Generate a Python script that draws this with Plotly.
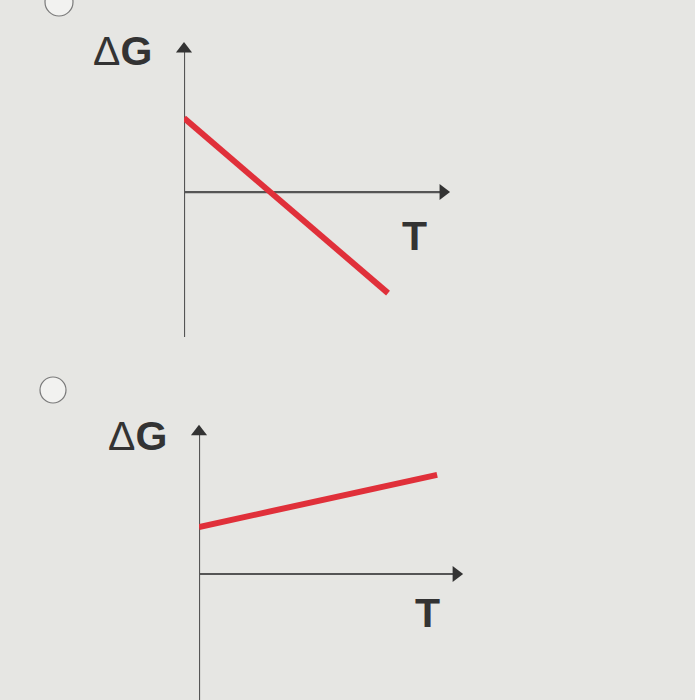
import plotly.graph_objects as go

# Diagram 1: ΔG falls as T rises
top_T = [0.0, 7.67]
top_dG = [2.78, -3.80]
top_T_range = [0, 10]
top_dG_range = [-5.45, 5.64]

# Diagram 2: ΔG rises slowly with T, always positive
bot_T = [0.0, 9.02]
bot_dG = [1.78, 3.75]
bot_T_range = [0, 10]
bot_dG_range = [-4.77, 5.64]

axis_label_x = "T"
axis_label_y = "Δ<b>G</b>"

RED = "#e0303a"
GREY = "#555555"
INK = "#333333"
BG = "#e6e6e3"

fig = go.Figure()


def draw_axes(xr, yr, xa, ya):
    # vertical ΔG axis and horizontal T axis, with arrowheads
    fig.add_trace(go.Scatter(x=[0, 0], y=[yr[0], yr[1] - 0.3], mode="lines",
                             line=dict(color=GREY, width=2.2), xaxis=xa, yaxis=ya,
                             cliponaxis=False, hoverinfo="skip"))
    fig.add_trace(go.Scatter(x=[0, xr[1] - 0.3], y=[0, 0], mode="lines",
                             line=dict(color=GREY, width=2.2), xaxis=xa, yaxis=ya,
                             cliponaxis=False, hoverinfo="skip"))
    fig.add_trace(go.Scatter(x=[0], y=[yr[1] - 0.26], mode="markers",
                             marker=dict(symbol="triangle-up", size=14, color=INK),
                             xaxis=xa, yaxis=ya, cliponaxis=False, hoverinfo="skip"))
    fig.add_trace(go.Scatter(x=[xr[1] - 0.26], y=[0], mode="markers",
                             marker=dict(symbol="triangle-right", size=14, color=INK),
                             xaxis=xa, yaxis=ya, cliponaxis=False, hoverinfo="skip"))


draw_axes(top_T_range, top_dG_range, "x", "y")
fig.add_trace(go.Scatter(x=top_T, y=top_dG, mode="lines",
                         line=dict(color=RED, width=6), xaxis="x", yaxis="y",
                         cliponaxis=False))

draw_axes(bot_T_range, bot_dG_range, "x2", "y2")
fig.add_trace(go.Scatter(x=bot_T, y=bot_dG, mode="lines",
                         line=dict(color=RED, width=6), xaxis="x2", yaxis="y2",
                         cliponaxis=False))

hidden = dict(visible=False, fixedrange=True)
fig.update_layout(
    width=695, height=700, autosize=False,
    margin=dict(l=0, r=0, t=0, b=0),
    paper_bgcolor=BG, plot_bgcolor=BG,
    showlegend=False,
    font=dict(family="Liberation Sans, Arial, sans-serif", color=INK),
    xaxis=dict(domain=[184 / 695, 450 / 695], range=top_T_range, anchor="y", **hidden),
    yaxis=dict(domain=[1 - 337 / 700, 1 - 42 / 700], range=top_dG_range, anchor="x", **hidden),
    xaxis2=dict(domain=[199 / 695, 463 / 695], range=bot_T_range, anchor="y2", **hidden),
    yaxis2=dict(domain=[0, 1 - 425 / 700], range=bot_dG_range, anchor="x2", **hidden),
)

# labels
for x, y, txt in [(122, 51, axis_label_y), (415, 236, "<b>" + axis_label_x + "</b>"),
                  (137, 436, axis_label_y), (427, 613, "<b>" + axis_label_x + "</b>")]:
    fig.add_annotation(x=x / 695, y=1 - y / 700, xref="paper", yref="paper",
                       text=txt, showarrow=False, font=dict(size=41, color=INK),
                       xanchor="center", yanchor="middle")

# radio-button circles
for cx, cy, r in [(59, 2, 14), (53, 390, 13)]:
    fig.add_shape(type="circle", xref="paper", yref="paper",
                  x0=(cx - r) / 695, x1=(cx + r) / 695,
                  y0=1 - (cy + r) / 700, y1=1 - (cy - r) / 700,
                  line=dict(color="#7a7a7a", width=1.2), fillcolor="#f2f2f0")

# drop the page margin so the figure fills the window
fig.write_html("out.html", config={"displayModeBar": False},
               post_script="document.body.style.margin='0';"
                           "document.body.style.background='" + BG + "';")
